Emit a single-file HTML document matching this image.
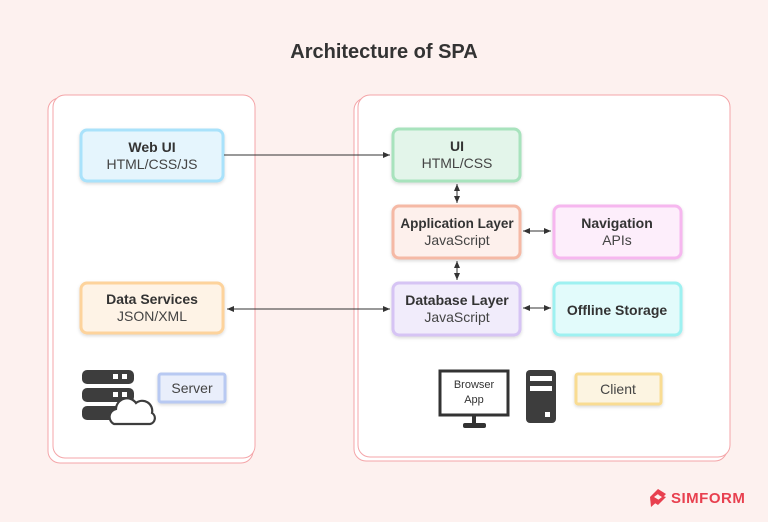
<!DOCTYPE html>
<html><head><meta charset="utf-8"><style>
html,body{margin:0;padding:0;background:#fdf1ef;}
svg{display:block;font-family:"Liberation Sans",sans-serif;}
</style></head><body>
<svg width="768" height="522" viewBox="0 0 768 522" xmlns="http://www.w3.org/2000/svg">
<defs>
<marker id="ah" markerWidth="8" markerHeight="8" refX="7" refY="4" orient="auto-start-reverse" markerUnits="userSpaceOnUse">
<path d="M0,1 L7,4 L0,7 z" fill="#333"/></marker>
<filter id="sh" x="-10%" y="-10%" width="120%" height="130%"><feDropShadow dx="0" dy="1.5" stdDeviation="1.5" flood-color="#000" flood-opacity="0.15"/></filter>
</defs>
<rect width="768" height="522" fill="#fdf1ef"/>
<text x="384" y="58" text-anchor="middle" font-size="20" font-weight="bold" fill="#333">Architecture of SPA</text>

<rect x="48" y="98" width="205" height="365" rx="12" fill="#fff" stroke="#f4a5a8" stroke-width="1"/>
<rect x="53" y="95" width="202" height="363" rx="12" fill="#fff" stroke="#f4a5a8" stroke-width="1"/>
<rect x="354" y="98" width="373" height="363" rx="12" fill="#fff" stroke="#f4a5a8" stroke-width="1"/>
<rect x="358" y="95" width="372" height="362" rx="12" fill="#fff" stroke="#f4a5a8" stroke-width="1"/>

<g filter="url(#sh)" stroke-width="3">
<rect x="81" y="130" width="142" height="51" rx="6" fill="#e5f5fd" stroke="#a9e2fb"/>
<rect x="81" y="283" width="142" height="50" rx="6" fill="#fef3e6" stroke="#fdd39c"/>
<rect x="159" y="374" width="66" height="28" rx="2" fill="#e9eefb" stroke="#b8c9f2"/>
<rect x="393" y="129" width="127" height="52" rx="6" fill="#e3f5ea" stroke="#a8e3bd"/>
<rect x="393" y="206" width="127" height="52" rx="6" fill="#fdf0ec" stroke="#f5b9a5"/>
<rect x="554" y="206" width="127" height="52" rx="6" fill="#fdeefb" stroke="#f6b7ef"/>
<rect x="393" y="283" width="127" height="52" rx="6" fill="#f1ecfb" stroke="#d6c4f4"/>
<rect x="554" y="283" width="127" height="52" rx="6" fill="#e2fbfb" stroke="#9ef1f1"/>
<rect x="576" y="374" width="85" height="30" rx="2" fill="#fcf4e1" stroke="#f9dc92"/>
</g>

<g fill="#333" text-anchor="middle" font-size="14">
<text x="152" y="152" font-weight="bold">Web UI</text>
<text x="152" y="169" fill="#444">HTML/CSS/JS</text>
<text x="152" y="304" font-weight="bold">Data Services</text>
<text x="152" y="321" fill="#444">JSON/XML</text>
<text x="192" y="393" fill="#444">Server</text>
<text x="457" y="151" font-weight="bold">UI</text>
<text x="457" y="168" fill="#444">HTML/CSS</text>
<text x="457" y="228" font-weight="bold" font-size="13.5">Application Layer</text>
<text x="457" y="245" fill="#444">JavaScript</text>
<text x="617" y="228" font-weight="bold">Navigation</text>
<text x="617" y="245" fill="#444">APIs</text>
<text x="457" y="305" font-weight="bold">Database Layer</text>
<text x="457" y="322" fill="#444">JavaScript</text>
<text x="617" y="315" font-weight="bold">Offline Storage</text>
<text x="618" y="394" fill="#444">Client</text>
</g>

<g stroke="#333" stroke-width="1" fill="none">
<line x1="224" y1="155" x2="390" y2="155" marker-end="url(#ah)"/>
<line x1="227" y1="309" x2="390" y2="309" marker-start="url(#ah)" marker-end="url(#ah)"/>
<line x1="457" y1="184" x2="457" y2="203" marker-start="url(#ah)" marker-end="url(#ah)"/>
<line x1="457" y1="261" x2="457" y2="280" marker-start="url(#ah)" marker-end="url(#ah)"/>
<line x1="523" y1="231" x2="551" y2="231" marker-start="url(#ah)" marker-end="url(#ah)"/>
<line x1="523" y1="308" x2="551" y2="308" marker-start="url(#ah)" marker-end="url(#ah)"/>
</g>

<g fill="#3d3d3d">
<rect x="82" y="370" width="52" height="14" rx="5"/>
<rect x="82" y="388" width="52" height="14" rx="5"/>
<rect x="82" y="406" width="52" height="14" rx="5"/>
</g>
<g fill="#fff">
<rect x="113" y="374" width="5" height="5"/><rect x="122" y="374" width="5" height="5"/>
<rect x="113" y="392" width="5" height="5"/><rect x="122" y="392" width="5" height="5"/>
</g>
<path d="M114,424 a8,8 0 0 1 2,-15 a11,11 0 0 1 20,-6 a10,10 0 0 1 16,10 a6,6 0 0 1 -2,11 z" fill="#fff" stroke="#3d3d3d" stroke-width="2.2"/>

<rect x="440" y="371" width="68" height="44" fill="#fff" stroke="#333" stroke-width="3"/>
<rect x="472" y="416" width="4" height="8" fill="#333"/>
<rect x="463" y="423" width="23" height="5" rx="2" fill="#333"/>
<text x="474" y="388" text-anchor="middle" font-size="11" fill="#333">Browser</text>
<text x="474" y="403" text-anchor="middle" font-size="11" fill="#333">App</text>
<rect x="526" y="370" width="30" height="53" rx="4" fill="#3d3d3d"/>
<rect x="530" y="376" width="22" height="5" fill="#fff"/>
<rect x="530" y="386" width="22" height="5" fill="#fff"/>
<rect x="545" y="412" width="5" height="5" fill="#fff"/>

<path d="M650,497 l8,-8 l8,5 l-3,3 l-5,-3 l-4,3 l5,3 l-8,7 z M666,497 l-8,8 l-8,-5 l3,-3 l5,3 l4,-3 l-5,-3" fill="#e8404f"/>
<text x="671" y="503" font-size="15" font-weight="bold" fill="#e8404f" letter-spacing="0.5">SIMFORM</text>
</svg>
</body></html>
